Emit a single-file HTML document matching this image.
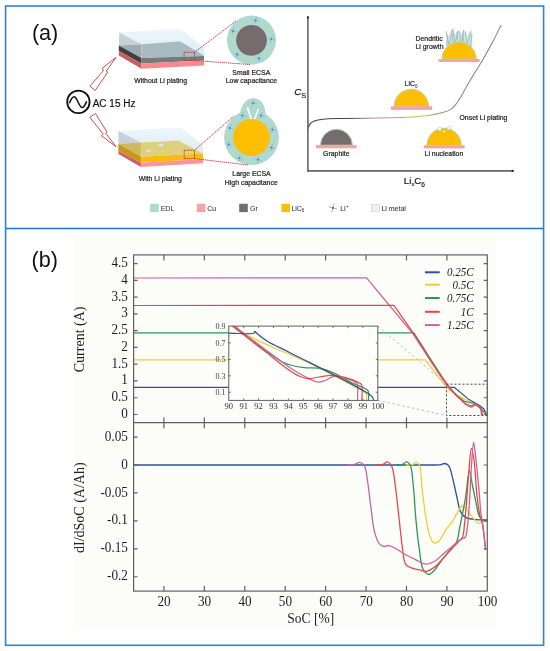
<!DOCTYPE html>
<html><head><meta charset="utf-8"><title>Figure</title>
<style>html,body{margin:0;padding:0;background:#fff;} svg{display:block;}</style>
</head><body>
<svg width="550" height="651" viewBox="0 0 550 651">
<rect width="550" height="651" fill="#fff"/>
<defs><linearGradient id="tf1" gradientUnits="userSpaceOnUse" x1="0" y1="28" x2="0" y2="56"><stop offset="0" stop-color="#eef7fb"/><stop offset="1" stop-color="#d9edf5"/></linearGradient><linearGradient id="tf2" gradientUnits="userSpaceOnUse" x1="0" y1="127" x2="0" y2="154"><stop offset="0" stop-color="#eef7fb"/><stop offset="1" stop-color="#d9edf5"/></linearGradient></defs>
<text x="31.9" y="40.3" font-family="Liberation Sans, Arial, sans-serif" font-size="21.6" fill="#111">(a)</text>
<polygon points="119.3,32.5 180,28.7 204,47.3 204,55.4 180,41.3 141.5,44.3" fill="url(#tf1)"/>
<polygon points="119.3,32.5 141.5,44.3 118.8,45.6" fill="#c7d1d7"/>
<polygon points="118.8,45.6 141.5,44.3 141.5,57.9" fill="#a0abb1"/>
<polygon points="141.5,44.3 180,41.3 204,55.4 204,55.9 141.5,57.9" fill="#a8bbc3"/>
<polygon points="118.8,45.6 141.5,57.9 141.5,63.4 118.8,51" fill="#3e3f41"/>
<polygon points="118.8,51 141.5,63.4 141.5,68.8 118.8,55.6" fill="#c85f63"/>
<polygon points="141.5,57.9 204,55.9 204,60.5 141.5,63.4" fill="#77797b"/>
<polygon points="141.5,63.4 204,60.5 204,65.5 141.5,68.8" fill="#f9898c"/>
<polygon points="118.4,131.1 181.2,127.3 203,145.5 203,153.4 178.4,140.4 140.9,142.5" fill="url(#tf2)"/>
<polygon points="118.4,131.1 140.9,142.5 118.4,143.8" fill="#c8d1d7"/>
<polygon points="118.4,143.8 140.9,142.5 140.9,156.6" fill="#cdb960"/>
<polygon points="140.9,142.5 178.4,140.4 203,153.4 140.9,156.8" fill="#dfd07c"/>
<polygon points="118.4,143.8 140.9,156.6 140.9,162.8 118.4,150.8" fill="#c9961b"/>
<polygon points="118.4,150.8 140.9,162.8 140.9,167 118.4,154" fill="#cf606a"/>
<polygon points="140.9,156.8 203,153.4 203,158.9 140.9,162.8" fill="#f9bb0c"/>
<polygon points="140.9,162.8 203,158.9 203,163.3 140.9,167" fill="#f7959b"/>
<ellipse cx="148.6" cy="150.8" rx="2.7" ry="1.3" fill="#d3e8f3"/>
<ellipse cx="160.9" cy="145" rx="2.7" ry="1.2" fill="#d3e8f3"/>
<text x="160.6" y="83.3" font-family="Liberation Sans, Arial, sans-serif" font-size="6.9" fill="#262626" stroke="#262626" stroke-width="0.22" text-anchor="middle">Without Li plating</text>
<text x="160.3" y="181" font-family="Liberation Sans, Arial, sans-serif" font-size="6.9" fill="#262626" stroke="#262626" stroke-width="0.22" text-anchor="middle">With Li plating</text>
<circle cx="78.4" cy="101.9" r="11.2" fill="none" stroke="#111" stroke-width="1.8"/>
<path d="M69.6,102.6 C71,99.5 72.4,96.7 74,96.7 C76,96.7 77,100 78.1,102.1 C79.2,104.4 80.4,107.6 82.2,107.6 C84,107.6 85.3,104.3 86.4,101.8" fill="none" stroke="#111" stroke-width="1.5" stroke-linecap="round"/>
<text x="92.7" y="106.7" font-family="Liberation Sans, Arial, sans-serif" font-size="10" fill="#111" stroke="#111" stroke-width="0.18">AC 15 Hz</text>
<polygon points="116,57.4 101.8,68.6 103.7,70.3 89.8,86.2 95.2,90.4 107.8,72.2 106.2,71.2" fill="#fff" stroke="#c23a44" stroke-width="0.9" stroke-linejoin="miter"/>
<polygon points="116,146.7 101.4,135.7 103.3,134.1 89.8,117.4 95.5,113.6 107,132 105.6,133.1" fill="#fff" stroke="#c23a44" stroke-width="0.9" stroke-linejoin="miter"/>
<circle cx="251.5" cy="40.1" r="24.5" fill="#afd9cd"/>
<circle cx="251.5" cy="40.3" r="15.4" fill="#776c6d"/>
<path d="M255.6,20.4 L258.69,21.23 M255.6,20.4 L254.77,23.49 M255.6,20.4 L252.51,19.57 M255.6,20.4 L256.43,17.31" stroke="#86afdb" stroke-width="0.72" stroke-linecap="round" fill="none"/><circle cx="255.6" cy="20.4" r="0.84" fill="#3271bf"/>
<path d="M233,31 L236.09,31.83 M233,31 L232.17,34.09 M233,31 L229.91,30.17 M233,31 L233.83,27.91" stroke="#86afdb" stroke-width="0.72" stroke-linecap="round" fill="none"/><circle cx="233" cy="31" r="0.84" fill="#3271bf"/>
<path d="M271.4,39 L274.49,39.83 M271.4,39 L270.57,42.09 M271.4,39 L268.31,38.17 M271.4,39 L272.23,35.91" stroke="#86afdb" stroke-width="0.72" stroke-linecap="round" fill="none"/><circle cx="271.4" cy="39" r="0.84" fill="#3271bf"/>
<path d="M237,54.4 L240.09,55.23 M237,54.4 L236.17,57.49 M237,54.4 L233.91,53.57 M237,54.4 L237.83,51.31" stroke="#86afdb" stroke-width="0.72" stroke-linecap="round" fill="none"/><circle cx="237" cy="54.4" r="0.84" fill="#3271bf"/>
<path d="M259,58.4 L262.09,59.23 M259,58.4 L258.17,61.49 M259,58.4 L255.91,57.57 M259,58.4 L259.83,55.31" stroke="#86afdb" stroke-width="0.72" stroke-linecap="round" fill="none"/><circle cx="259" cy="58.4" r="0.84" fill="#3271bf"/>
<circle cx="251.5" cy="137.6" r="27.4" fill="#afd9cd"/>
<path d="M239,120 C239.6,114.5 240.6,109.5 242.3,106 C243.8,103 245.5,100.8 248,99.5 C250,98.6 251.8,98.3 253.2,98.3 C255.2,98.3 257.6,98.9 260,100.6 C262.4,102.4 263.8,105.2 264.7,108.2 C265.4,111 265.8,114 266.2,120 Z" fill="#afd9cd"/>
<circle cx="251.5" cy="137.5" r="18.5" fill="#fdbe03"/>
<path d="M246.6,107.8 Q247.5,107 248.5,107.4 L252.1,119 L250.4,119.2 Z" fill="#fff"/>
<path d="M257.6,109 Q258.5,108.6 259.1,109.5 L255.4,119.2 L253.9,119 Z" fill="#fff"/>
<path d="M253,103 L256.09,103.83 M253,103 L252.17,106.09 M253,103 L249.91,102.17 M253,103 L253.83,99.91" stroke="#86afdb" stroke-width="0.72" stroke-linecap="round" fill="none"/><circle cx="253" cy="103" r="0.84" fill="#3271bf"/>
<path d="M242.4,115.6 L245.49,116.43 M242.4,115.6 L241.57,118.69 M242.4,115.6 L239.31,114.77 M242.4,115.6 L243.23,112.51" stroke="#86afdb" stroke-width="0.72" stroke-linecap="round" fill="none"/><circle cx="242.4" cy="115.6" r="0.84" fill="#3271bf"/>
<path d="M261,115.6 L264.09,116.43 M261,115.6 L260.17,118.69 M261,115.6 L257.91,114.77 M261,115.6 L261.83,112.51" stroke="#86afdb" stroke-width="0.72" stroke-linecap="round" fill="none"/><circle cx="261" cy="115.6" r="0.84" fill="#3271bf"/>
<path d="M230,128 L233.09,128.83 M230,128 L229.17,131.09 M230,128 L226.91,127.17 M230,128 L230.83,124.91" stroke="#86afdb" stroke-width="0.72" stroke-linecap="round" fill="none"/><circle cx="230" cy="128" r="0.84" fill="#3271bf"/>
<path d="M272.4,129.6 L275.49,130.43 M272.4,129.6 L271.57,132.69 M272.4,129.6 L269.31,128.77 M272.4,129.6 L273.23,126.51" stroke="#86afdb" stroke-width="0.72" stroke-linecap="round" fill="none"/><circle cx="272.4" cy="129.6" r="0.84" fill="#3271bf"/>
<path d="M228.6,144.4 L231.69,145.23 M228.6,144.4 L227.77,147.49 M228.6,144.4 L225.51,143.57 M228.6,144.4 L229.43,141.31" stroke="#86afdb" stroke-width="0.72" stroke-linecap="round" fill="none"/><circle cx="228.6" cy="144.4" r="0.84" fill="#3271bf"/>
<path d="M271.6,147.6 L274.69,148.43 M271.6,147.6 L270.77,150.69 M271.6,147.6 L268.51,146.77 M271.6,147.6 L272.43,144.51" stroke="#86afdb" stroke-width="0.72" stroke-linecap="round" fill="none"/><circle cx="271.6" cy="147.6" r="0.84" fill="#3271bf"/>
<path d="M239.4,158 L242.49,158.83 M239.4,158 L238.57,161.09 M239.4,158 L236.31,157.17 M239.4,158 L240.23,154.91" stroke="#86afdb" stroke-width="0.72" stroke-linecap="round" fill="none"/><circle cx="239.4" cy="158" r="0.84" fill="#3271bf"/>
<path d="M258,159.6 L261.09,160.43 M258,159.6 L257.17,162.69 M258,159.6 L254.91,158.77 M258,159.6 L258.83,156.51" stroke="#86afdb" stroke-width="0.72" stroke-linecap="round" fill="none"/><circle cx="258" cy="159.6" r="0.84" fill="#3271bf"/>
<text x="251.3" y="75" font-family="Liberation Sans, Arial, sans-serif" font-size="6.9" fill="#262626" stroke="#262626" stroke-width="0.22" text-anchor="middle">Small ECSA</text>
<text x="251.4" y="83" font-family="Liberation Sans, Arial, sans-serif" font-size="6.9" fill="#262626" stroke="#262626" stroke-width="0.22" text-anchor="middle">Low capacitance</text>
<text x="251.5" y="176.3" font-family="Liberation Sans, Arial, sans-serif" font-size="6.9" fill="#262626" stroke="#262626" stroke-width="0.22" text-anchor="middle">Large ECSA</text>
<text x="251.3" y="184.5" font-family="Liberation Sans, Arial, sans-serif" font-size="6.9" fill="#262626" stroke="#262626" stroke-width="0.22" text-anchor="middle">High capacitance</text>
<rect x="184.1" y="52.3" width="10.4" height="8.2" fill="none" stroke="#c23a44" stroke-width="1" stroke-dasharray="1.4,0.7"/>
<line x1="194.5" y1="52.3" x2="236" y2="21" stroke="#c23a44" stroke-width="0.95" stroke-dasharray="1.4,0.7"/>
<line x1="194.5" y1="60.5" x2="250" y2="64.5" stroke="#c23a44" stroke-width="0.95" stroke-dasharray="1.4,0.7"/>
<rect x="184.2" y="150.2" width="10.3" height="8.4" fill="none" stroke="#c23a44" stroke-width="1" stroke-dasharray="1.4,0.7"/>
<line x1="194.5" y1="150.2" x2="234" y2="116" stroke="#c23a44" stroke-width="0.95" stroke-dasharray="1.4,0.7"/>
<line x1="194.5" y1="158.6" x2="248" y2="165" stroke="#c23a44" stroke-width="0.95" stroke-dasharray="1.4,0.7"/>
<defs><linearGradient id="cg" gradientUnits="userSpaceOnUse" x1="308" y1="0" x2="502" y2="0"><stop offset="0" stop-color="#3a3a3a"/><stop offset="0.22" stop-color="#4a4a4a"/><stop offset="0.33" stop-color="#b98a8e"/><stop offset="0.45" stop-color="#c9a56a"/><stop offset="0.6" stop-color="#d4c060"/><stop offset="0.72" stop-color="#8a8a8a"/><stop offset="1" stop-color="#808080"/></linearGradient></defs>
<path d="M308,128.8 C308.27,128.1 308.8,125.8 309.6,124.6 C310.4,123.4 311.4,122.38 312.8,121.6 C314.2,120.82 315.37,120.37 318,119.9 C320.63,119.43 324.33,119.03 328.6,118.8 C332.87,118.57 335.03,118.65 343.6,118.5 C352.17,118.35 368.48,118.17 380,117.9 C391.52,117.63 404.67,117.3 412.7,116.9 C420.73,116.5 423.2,116.22 428.2,115.5 C433.2,114.78 438.98,113.58 442.7,112.6 C446.42,111.62 448.4,110.87 450.5,109.6 C452.6,108.33 453.72,106.9 455.3,105 C456.88,103.1 458.35,100.85 460,98.2 C461.65,95.55 462.93,93.05 465.2,89.1 C467.47,85.15 470.68,79.35 473.6,74.5 C476.52,69.65 479.67,65.15 482.7,60 C485.73,54.85 488.72,49.43 491.8,43.6 C494.88,37.77 499.63,28.1 501.2,25" fill="none" stroke="url(#cg)" stroke-width="1.05"/>
<line x1="307.9" y1="16.4" x2="307.9" y2="171.8" stroke="#666" stroke-width="1.6"/>
<line x1="307" y1="170.9" x2="513.5" y2="170.9" stroke="#666" stroke-width="1.6"/>
<circle cx="307.9" cy="17.4" r="1.1" fill="#222"/>
<circle cx="512.6" cy="170.9" r="1.1" fill="#222"/>
<text x="294.2" y="95.2" font-family="Liberation Sans, Arial, sans-serif" font-size="9.8" font-style="italic" fill="#1a1a1a" stroke="#1a1a1a" stroke-width="0.25">C</text>
<text x="301.3" y="97.9" font-family="Liberation Sans, Arial, sans-serif" font-size="7.3" fill="#1a1a1a" stroke="#1a1a1a" stroke-width="0.15">S</text>
<text x="403.8" y="183.6" font-family="Liberation Sans, Arial, sans-serif" font-size="9.7" fill="#1a1a1a" stroke="#1a1a1a" stroke-width="0.2">Li</text>
<text x="411.5" y="185.6" font-family="Liberation Sans, Arial, sans-serif" font-size="6.2" fill="#1a1a1a" stroke="#1a1a1a" stroke-width="0.15">x</text>
<text x="414.2" y="183.9" font-family="Liberation Sans, Arial, sans-serif" font-size="9.7" fill="#1a1a1a" stroke="#1a1a1a" stroke-width="0.2">C</text>
<text x="421.2" y="186.5" font-family="Liberation Sans, Arial, sans-serif" font-size="6.6" fill="#1a1a1a" stroke="#1a1a1a" stroke-width="0.15">6</text>
<path d="M320.4,145.2 A16,16 0 0 1 352.4,145.2 Z" fill="#776c6d" stroke="#afd9cd" stroke-width="0.9"/>
<rect x="316" y="145" width="40.7" height="3.3" fill="#f9a2a2"/>
<text x="336.3" y="156.2" font-family="Liberation Sans, Arial, sans-serif" font-size="6.9" fill="#262626" stroke="#262626" stroke-width="0.22" text-anchor="middle">Graphite</text>
<path d="M394,106.4 A17.3,17.3 0 0 1 428.6,106.4 Z" fill="#fdbe03" stroke="#afd9cd" stroke-width="0.9"/>
<rect x="390.9" y="106.3" width="41.2" height="3.6" fill="#f9a2a2"/>
<text x="404.6" y="85.8" font-family="Liberation Sans, Arial, sans-serif" font-size="6.9" fill="#262626" stroke="#262626" stroke-width="0.22">LiC</text>
<text x="415" y="87.6" font-family="Liberation Sans, Arial, sans-serif" font-size="4.6" fill="#262626">6</text>
<polygon points="446.6,47 446.2,38 445.8,31.6 448.6,36.5 451.6,30.2 453,29 455.2,34.5 457.8,30.6 459.7,31.3 461.3,35.2 463.8,30 465.4,32 467.3,35.8 470.7,31.2 472.4,33.5 472.2,47" fill="#d3e5e2"/>
<path d="M446.3,31.6 Q447.25,38.05 449,44.5 Q450.8,37.35 451.8,30.2 M453,29.2 Q453.6,36.2 455,43.2 Q456.8,37 457.8,30.8 M459.6,31.6 Q460,37.3 461.2,43 Q462.9,36.6 463.8,30.2 M465.4,32.2 Q465.9,38.35 467.2,44.5 Q469.3,37.95 470.6,31.4 M452.2,44 L452.8,33 M458,43 L457.2,32.5 M464.2,43.5 L462.4,33 M470.6,46 L471.8,34.5 M446.8,46 L447.8,36" fill="none" stroke="#9dbdb8" stroke-width="0.95" stroke-linecap="round" stroke-linejoin="round"/>
<path d="M441.9,59.1 A17.2,17.2 0 0 1 476.3,59.1 Z" fill="#fdbe03" stroke="#afd9cd" stroke-width="0.9"/>
<rect x="438.6" y="59" width="40.9" height="3" fill="#f9a2a2"/>
<text x="415.5" y="41.4" font-family="Liberation Sans, Arial, sans-serif" font-size="6.9" fill="#262626" stroke="#262626" stroke-width="0.22">Dendritic</text>
<text x="415.5" y="49" font-family="Liberation Sans, Arial, sans-serif" font-size="6.9" fill="#262626" stroke="#262626" stroke-width="0.22">Li growth</text>
<path d="M426.8,145.4 A17.3,17.3 0 0 1 461.4,145.4 Z" fill="#fdbe03" stroke="#afd9cd" stroke-width="0.9"/>
<circle cx="439.6" cy="128.9" r="1.8" fill="#fff" stroke="#afd9cd" stroke-width="0.8"/>
<circle cx="449" cy="128" r="1.8" fill="#fff" stroke="#afd9cd" stroke-width="0.8"/>
<circle cx="444.1" cy="131.6" r="1" fill="#fff"/>
<rect x="423.8" y="145.3" width="40.9" height="3.1" fill="#f9a2a2"/>
<text x="443.9" y="156.4" font-family="Liberation Sans, Arial, sans-serif" font-size="6.9" fill="#262626" stroke="#262626" stroke-width="0.22" text-anchor="middle">Li nucleation</text>
<text x="459.5" y="119.5" font-family="Liberation Sans, Arial, sans-serif" font-size="6.9" fill="#262626" stroke="#262626" stroke-width="0.22">Onset Li plating</text>
<rect x="150.1" y="203.8" width="8.6" height="8.3" fill="#afd9cd"/>
<text x="160.7" y="210.9" font-family="Liberation Sans, Arial, sans-serif" font-size="7" fill="#3c3c3c" stroke="#3c3c3c" stroke-width="0.08">EDL</text>
<rect x="196.8" y="203.8" width="8.6" height="8.3" fill="#f9a2a2"/>
<text x="207.2" y="210.9" font-family="Liberation Sans, Arial, sans-serif" font-size="7" fill="#3c3c3c" stroke="#3c3c3c" stroke-width="0.08">Cu</text>
<rect x="239.2" y="203.8" width="8.6" height="8.3" fill="#776c6d"/>
<text x="250" y="210.9" font-family="Liberation Sans, Arial, sans-serif" font-size="7" fill="#3c3c3c" stroke="#3c3c3c" stroke-width="0.08">Gr</text>
<rect x="281.5" y="203.8" width="8.4" height="8.3" fill="#fdbe03"/>
<text x="291.4" y="210.9" font-family="Liberation Sans, Arial, sans-serif" font-size="7" fill="#3c3c3c" stroke="#3c3c3c" stroke-width="0.08">LiC</text>
<text x="301.8" y="212.4" font-family="Liberation Sans, Arial, sans-serif" font-size="4.6" fill="#333">6</text>
<path d="M332.9,207.9 L336.76,208.94 M332.9,207.9 L331.86,211.76 M332.9,207.9 L329.04,206.86 M332.9,207.9 L333.94,204.04" stroke="#86afdb" stroke-width="0.9" stroke-linecap="round" fill="none"/><circle cx="332.9" cy="207.9" r="1.05" fill="#3271bf"/>
<text x="340.2" y="210.9" font-family="Liberation Sans, Arial, sans-serif" font-size="7" fill="#3c3c3c" stroke="#3c3c3c" stroke-width="0.08">Li</text>
<text x="345.9" y="207.6" font-family="Liberation Sans, Arial, sans-serif" font-size="4.6" fill="#333">+</text>
<rect x="371.6" y="204.2" width="7.8" height="7.6" fill="#efefef" stroke="#d4d4d4" stroke-width="0.7"/>
<text x="381.4" y="210.9" font-family="Liberation Sans, Arial, sans-serif" font-size="7" fill="#3c3c3c" stroke="#3c3c3c" stroke-width="0.08">Li metal</text>
<rect x="74.2" y="235.3" width="422" height="393.7" fill="#fcfcf8"/>
<path d="M133.6,387.3 L454.2,387.3 L469,399.6 L479.6,405.5 L484,409 L486.7,415" fill="none" stroke="#30509c" stroke-width="1.2" stroke-linejoin="round"/>
<path d="M133.6,359.8 L425.3,359.8 L442.8,382.8 L450,390.5 L458,395.5 L469,401.5 L479,406.5 L485.5,414.5" fill="none" stroke="#f0d030" stroke-width="1.2" stroke-linejoin="round"/>
<path d="M133.6,332.9 L413.9,332.9 L437,369 L448,386 L456,395 L464.3,401.3 L475,403.5 L484.4,412 L486.5,415" fill="none" stroke="#2a9856" stroke-width="1.2" stroke-linejoin="round"/>
<path d="M133.6,278 L366.6,277.8 L389.5,305.5 L412.9,333.6 L444.8,382.8 L449,388 L457,396 L465,403.2 L470.5,405.8 L476,404.2 L480.5,407.5 L481.5,415" fill="none" stroke="#c8649a" stroke-width="1.2" stroke-linejoin="round"/>
<path d="M133.6,305.5 L393.9,305.3 L402.7,317.8 L412.9,332.4 L437,370 L448.9,386.5 L457,396 L465.5,404.3 L470.8,407.2 L476,404.6 L481.5,409 L482.5,415" fill="none" stroke="#e44a44" stroke-width="1.2" stroke-linejoin="round"/>
<path d="M133.6,465 L436,465 C437.33,464.93 438.6,465.01 440,464.8 C441.59,464.56 443.57,463.35 445,463.5 C446.15,463.62 447.18,464.25 448,465 C448.87,465.79 449.36,466.69 450,468.2 C451.25,471.13 452.36,477.26 453.5,482 C454.7,487.01 455.82,492.48 457,497.5 C458.12,502.26 458.58,507.88 460.4,511.4 C461.75,514.02 463.28,516.03 465.6,517.4 C468.28,518.98 472.44,519.16 476,519.6 C479.67,520.05 483.53,519.87 487.3,520" fill="none" stroke="#30509c" stroke-width="1.3"/>
<path d="M406,465 L409,465 C410.17,464.87 411.34,464.99 412.5,464.6 C413.81,464.16 415.22,462.16 416.4,462.3 C417.55,462.44 418.68,463.63 419.5,465.3 C421.3,468.97 420.92,478.6 421.8,486 C422.82,494.57 424.02,505.41 425.3,513.7 C426.35,520.5 427.29,527.15 428.7,532.2 C429.72,535.85 430.83,539.68 432.2,541.4 C432.94,542.33 433.66,542.93 434.6,543 C435.83,543.09 437.54,542.2 439,540.9 C441.45,538.71 443.91,532.58 446.3,529.2 C448.26,526.42 450.25,524.61 452.1,521.9 C454.18,518.85 456.11,514.6 458,511.7 C459.48,509.42 460.67,505.93 462.3,505.8 C464.04,505.66 466.3,509.57 468.2,511.7 C470.21,513.95 472.14,516.94 474,519 C475.51,520.68 477,523.05 478.4,523.3 C479.4,523.48 480.14,522.4 481.3,522 C482.92,521.44 485.3,521 487.3,520.5" fill="none" stroke="#f0d030" stroke-width="1.3"/>
<path d="M396,465 L399,465 C400.17,464.8 401.33,464.85 402.5,464.4 C403.87,463.87 405.31,461.68 406.6,461.8 C407.92,461.93 409.31,463.39 410.3,465.3 C412.3,469.16 412.43,478.2 413.3,486 C414.42,496.04 414.92,509.49 416,520.6 C417.01,530.97 418.16,541.84 419.5,550.6 C420.56,557.5 420.74,564.91 423,569 C424.47,571.66 426.82,574.3 428.8,574.4 C430.69,574.5 432.7,571.95 434.6,570 C437.09,567.44 439.41,563.03 441.9,559.8 C444.28,556.71 446.76,553.92 449.2,551 C451.63,548.09 454.81,545.74 456.5,542.3 C458.34,538.57 458.46,533.69 459.4,529.2 C460.39,524.47 461.31,519.66 462.3,514.6 C463.37,509.13 464.53,503.84 465.6,497.5 C466.92,489.64 468.06,471.05 469.4,471 C470.39,470.97 471.45,480.46 472.5,485.5 C473.64,490.99 474.78,497.29 476,502.7 C477.09,507.56 477.74,513.55 479.4,516.5 C480.38,518.24 481.54,519.25 482.9,520 C484.19,520.71 485.83,520.67 487.3,521" fill="none" stroke="#2a9856" stroke-width="1.3"/>
<path d="M376,465 L379,465 C380.33,464.8 381.7,464.87 383,464.4 C384.43,463.89 385.83,461.73 387.2,461.9 C388.78,462.1 390.58,464.17 391.8,466.5 C393.93,470.57 394.23,478.78 395.3,486 C396.62,494.91 397.65,506 398.8,516 C399.95,526 400.87,537.24 402.2,546 C403.25,552.9 403.27,560.88 405.7,564.4 C407.15,566.5 409.19,566.97 411.4,567.9 C414.03,569.01 417.97,569.54 420.6,570.2 C422.58,570.69 423.88,571.71 425.8,571.5 C428.4,571.21 431.83,569.1 434.6,567.1 C437.7,564.87 440.45,561.47 443.3,558.4 C446.29,555.19 449.25,551.27 452.1,548.2 C454.6,545.51 457.5,543 459.4,540.9 C460.73,539.44 461.79,538.83 462.6,537 C463.91,534.05 463.91,529 464.5,524 C465.3,517.23 466.02,508.08 466.7,500 C467.39,491.75 467.83,483.46 468.6,475 C469.39,466.27 470.25,448.47 471.4,448.4 C472.17,448.36 473.24,455.03 474,460 C475.32,468.66 475.81,485.77 477,496 C477.89,503.66 478.88,511.32 480,516 C480.63,518.62 481.42,519.59 482,522 C482.84,525.48 483.44,530.75 484,535 C484.53,539.07 484.87,543 485.3,547" fill="none" stroke="#e44a44" stroke-width="1.3"/>
<path d="M347,465 L350,465 C351.5,464.8 352.98,464.79 354.5,464.4 C356.17,463.97 357.98,462.25 359.6,462.4 C361.21,462.55 362.99,463.56 364.2,465.3 C366.31,468.34 366.57,475.36 367.6,481.5 C368.94,489.46 369.88,500.32 371.1,509.1 C372.22,517.15 372.89,525.91 374.6,532.2 C375.85,536.78 377.19,541.32 379.2,543.7 C380.53,545.27 382.21,546.23 383.8,546.5 C385.29,546.75 386.74,545.36 388.4,545.5 C390.49,545.68 392.89,547.08 395.3,548.3 C398.21,549.78 401.22,552.16 404.5,554 C408.08,556.01 412.3,558.04 416,559.8 C419.38,561.41 422.59,564.03 425.8,564.2 C428.78,564.35 431.82,562.85 434.6,561.3 C437.68,559.58 440.28,556.55 443.3,554 C446.59,551.21 450.44,547.8 453.6,545.2 C456.22,543.04 458.7,540.84 460.9,539.4 C462.53,538.33 464.33,538.45 465.4,537 C466.92,534.96 466.82,531.17 467.4,527 C468.35,520.21 468.95,509.59 469.6,500 C470.34,489.09 470.74,475.39 471.5,465 C472.12,456.64 472.79,442.42 473.6,442.4 C474.32,442.38 475.21,453.35 476,460 C477.02,468.67 478.13,480.55 479,490 C479.77,498.44 480.17,507.39 481,514 C481.59,518.7 482.35,521.3 483,526 C483.91,532.62 484.73,542 485.6,550" fill="none" stroke="#c8649a" stroke-width="1.3"/>
<line x1="377.8" y1="326.1" x2="446.5" y2="384.2" stroke="#b5b5b5" stroke-width="0.9" stroke-dasharray="2.5,2.5"/>
<line x1="377.8" y1="400.4" x2="446.5" y2="415.5" stroke="#b5b5b5" stroke-width="0.9" stroke-dasharray="2.5,2.5"/>
<rect x="228.8" y="326.1" width="149.0" height="74.3" fill="#fefefc"/>
<path d="M236.7,326.1 C237.47,327.27 237.77,328.37 239,329.6 C241.16,331.75 245.85,334.41 249.8,336.6 C254.22,339.05 259.54,341.16 264.4,343.4 C269.24,345.63 274.31,348.05 278.9,350 C282.96,351.73 286.16,352.75 290.5,354.6 C296.19,357.02 302.85,360.02 310,363.5 C318.97,367.86 330.48,373.97 340,379 C348.73,383.61 361.77,390.1 365,392.5 C365.88,393.16 366.18,393.23 366.5,394 C367.05,395.33 366.5,398.27 366.5,400.4" fill="none" stroke="#f0d030" stroke-width="1.2"/>
<path d="M233.5,326.1 C237.33,329.13 240.78,331.9 245,335.2 C250.11,339.2 256.55,344.42 262,348.4 C266.84,351.93 272.01,355.43 276,358 C278.89,359.86 280.93,361.35 283.6,362.6 C286.27,363.85 288.89,364.71 292,365.5 C295.72,366.45 300.16,367.15 304.5,367.6 C309.14,368.08 314.21,367.38 319,368.2 C323.91,369.04 328.7,370.61 333.6,372.7 C339.03,375.01 344.39,378.94 350,381.8 C355.69,384.71 365.29,387.84 367.5,390 C368.25,390.73 368.28,391.07 368.5,392 C368.93,393.81 368.5,397.6 368.5,400.4" fill="none" stroke="#2a9856" stroke-width="1.2"/>
<path d="M234.5,326.1 C238,328.8 240.93,331.1 245,334.2 C250.59,338.45 257.95,343.95 265,349.2 C272.86,355.06 282.61,362.82 290,367.7 C295.53,371.35 300.18,374.02 305,376.5 C309.24,378.68 313.62,381.58 317.3,382 C320.11,382.32 322.42,381.35 325,380.5 C327.85,379.56 330.48,376.9 333.6,376.4 C336.95,375.86 340.82,376.75 344.5,377.8 C348.61,378.97 355.42,381.58 357,383.5 C357.68,384.33 357.46,384.81 357.6,386 C357.93,388.81 357.6,395.6 357.6,400.4" fill="none" stroke="#c8649a" stroke-width="1.2"/>
<path d="M232.4,326.1 C236.6,329.37 240.32,332.26 245,335.9 C250.9,340.48 257.96,345.95 265,351.4 C272.87,357.48 283.43,366.28 290,370.7 C293.98,373.37 296.74,375.17 300,376.5 C302.79,377.64 305.26,378.45 308.2,378.6 C311.54,378.77 315.25,377.53 319,377 C323.08,376.43 327.55,375.25 331.8,375.3 C336.05,375.35 340.18,376.17 344.5,377.3 C349.23,378.54 356.12,381.05 359,382.7 C360.39,383.5 361.17,383.67 361.8,385 C363.1,387.74 361.8,395.27 361.8,400.4" fill="none" stroke="#e44a44" stroke-width="1.2"/>
<path d="M228.8,333.1 C237.27,333.1 251.71,334.81 254.2,333.1 C254.89,332.63 254.55,331.37 254.9,331.3 C255.29,331.22 255.69,332.26 256.5,333 C258.47,334.78 262.88,338.53 267.3,341.3 C273.34,345.09 280.13,347.59 290,352.7 C308.86,362.47 364.66,388.76 371.8,396.4 C373.35,398.06 373,399.07 373.6,400.4" fill="none" stroke="#30509c" stroke-width="1.2"/>
<rect x="228.8" y="326.1" width="149.0" height="74.3" fill="none" stroke="#606060" stroke-width="1"/>
<path d="M243.7,400.4 v-2 M243.7,326.1 v2 M258.6,400.4 v-2 M258.6,326.1 v2 M273.5,400.4 v-2 M273.5,326.1 v2 M288.4,400.4 v-2 M288.4,326.1 v2 M303.3,400.4 v-2 M303.3,326.1 v2 M318.2,400.4 v-2 M318.2,326.1 v2 M333.1,400.4 v-2 M333.1,326.1 v2 M348,400.4 v-2 M348,326.1 v2 M362.9,400.4 v-2 M362.9,326.1 v2 M228.8,392.26 h2 M377.8,392.26 h-2 M228.8,375.82 h2 M377.8,375.82 h-2 M228.8,359.38 h2 M377.8,359.38 h-2 M228.8,342.94 h2 M377.8,342.94 h-2" stroke="#606060" stroke-width="0.9" fill="none"/>
<text x="225.6" y="329.3" font-family="Liberation Serif, serif" font-size="8" fill="#444" text-anchor="end">0.9</text>
<text x="225.6" y="345.74" font-family="Liberation Serif, serif" font-size="8" fill="#444" text-anchor="end">0.7</text>
<text x="225.6" y="362.18" font-family="Liberation Serif, serif" font-size="8" fill="#444" text-anchor="end">0.5</text>
<text x="225.6" y="378.62" font-family="Liberation Serif, serif" font-size="8" fill="#444" text-anchor="end">0.3</text>
<text x="225.6" y="395.06" font-family="Liberation Serif, serif" font-size="8" fill="#444" text-anchor="end">0.1</text>
<text x="228.8" y="408.5" font-family="Liberation Serif, serif" font-size="8.5" fill="#333" text-anchor="middle">90</text>
<text x="243.7" y="408.5" font-family="Liberation Serif, serif" font-size="8.5" fill="#333" text-anchor="middle">91</text>
<text x="258.6" y="408.5" font-family="Liberation Serif, serif" font-size="8.5" fill="#333" text-anchor="middle">92</text>
<text x="273.5" y="408.5" font-family="Liberation Serif, serif" font-size="8.5" fill="#333" text-anchor="middle">93</text>
<text x="288.4" y="408.5" font-family="Liberation Serif, serif" font-size="8.5" fill="#333" text-anchor="middle">94</text>
<text x="303.3" y="408.5" font-family="Liberation Serif, serif" font-size="8.5" fill="#333" text-anchor="middle">95</text>
<text x="318.2" y="408.5" font-family="Liberation Serif, serif" font-size="8.5" fill="#333" text-anchor="middle">96</text>
<text x="333.1" y="408.5" font-family="Liberation Serif, serif" font-size="8.5" fill="#333" text-anchor="middle">97</text>
<text x="348" y="408.5" font-family="Liberation Serif, serif" font-size="8.5" fill="#333" text-anchor="middle">98</text>
<text x="362.9" y="408.5" font-family="Liberation Serif, serif" font-size="8.5" fill="#333" text-anchor="middle">99</text>
<text x="377.8" y="408.5" font-family="Liberation Serif, serif" font-size="8.5" fill="#333" text-anchor="middle">100</text>
<rect x="446.5" y="384.2" width="40.8" height="31.3" fill="none" stroke="#444" stroke-width="1" stroke-dasharray="2,2"/>
<rect x="133.6" y="254.9" width="353.7" height="336.2" fill="none" stroke="#606060" stroke-width="1.2"/>
<line x1="133.6" y1="422.6" x2="487.3" y2="422.6" stroke="#606060" stroke-width="1.2"/>
<path d="M163.9,254.9 v5.6 M163.9,422.6 v-5 M163.9,422.6 v5.6 M163.9,591.1 v-5.2 M204.33,254.9 v5.6 M204.33,422.6 v-5 M204.33,422.6 v5.6 M204.33,591.1 v-5.2 M244.76,254.9 v5.6 M244.76,422.6 v-5 M244.76,422.6 v5.6 M244.76,591.1 v-5.2 M285.19,254.9 v5.6 M285.19,422.6 v-5 M285.19,422.6 v5.6 M285.19,591.1 v-5.2 M325.62,254.9 v5.6 M325.62,422.6 v-5 M325.62,422.6 v5.6 M325.62,591.1 v-5.2 M366.05,254.9 v5.6 M366.05,422.6 v-5 M366.05,422.6 v5.6 M366.05,591.1 v-5.2 M406.48,254.9 v5.6 M406.48,422.6 v-5 M406.48,422.6 v5.6 M406.48,591.1 v-5.2 M446.91,254.9 v5.6 M446.91,422.6 v-5 M446.91,422.6 v5.6 M446.91,591.1 v-5.2 M133.6,414.5 h4 M487.3,414.5 h-3.6 M133.6,397.74 h4 M487.3,397.74 h-3.6 M133.6,380.97 h4 M487.3,380.97 h-3.6 M133.6,364.2 h4 M487.3,364.2 h-3.6 M133.6,347.44 h4 M487.3,347.44 h-3.6 M133.6,330.68 h4 M487.3,330.68 h-3.6 M133.6,313.91 h4 M487.3,313.91 h-3.6 M133.6,297.14 h4 M487.3,297.14 h-3.6 M133.6,280.38 h4 M487.3,280.38 h-3.6 M133.6,263.62 h4 M487.3,263.62 h-3.6 M133.6,437.06 h4 M487.3,437.06 h-3.6 M133.6,465 h4 M487.3,465 h-3.6 M133.6,492.94 h4 M487.3,492.94 h-3.6 M133.6,520.88 h4 M487.3,520.88 h-3.6 M133.6,548.82 h4 M487.3,548.82 h-3.6 M133.6,576.76 h4 M487.3,576.76 h-3.6" stroke="#606060" stroke-width="1.2" fill="none"/>
<text transform="translate(127.9,417.9) scale(1,1.1)" font-family="Liberation Serif, serif" font-size="13.2" fill="#1e1e1e" text-anchor="end">0</text>
<text transform="translate(127.9,401.13) scale(1,1.1)" font-family="Liberation Serif, serif" font-size="13.2" fill="#1e1e1e" text-anchor="end">0.5</text>
<text transform="translate(127.9,384.37) scale(1,1.1)" font-family="Liberation Serif, serif" font-size="13.2" fill="#1e1e1e" text-anchor="end">1</text>
<text transform="translate(127.9,367.6) scale(1,1.1)" font-family="Liberation Serif, serif" font-size="13.2" fill="#1e1e1e" text-anchor="end">1.5</text>
<text transform="translate(127.9,350.84) scale(1,1.1)" font-family="Liberation Serif, serif" font-size="13.2" fill="#1e1e1e" text-anchor="end">2</text>
<text transform="translate(127.9,334.07) scale(1,1.1)" font-family="Liberation Serif, serif" font-size="13.2" fill="#1e1e1e" text-anchor="end">2.5</text>
<text transform="translate(127.9,317.31) scale(1,1.1)" font-family="Liberation Serif, serif" font-size="13.2" fill="#1e1e1e" text-anchor="end">3</text>
<text transform="translate(127.9,300.54) scale(1,1.1)" font-family="Liberation Serif, serif" font-size="13.2" fill="#1e1e1e" text-anchor="end">3.5</text>
<text transform="translate(127.9,283.78) scale(1,1.1)" font-family="Liberation Serif, serif" font-size="13.2" fill="#1e1e1e" text-anchor="end">4</text>
<text transform="translate(127.9,267.01) scale(1,1.1)" font-family="Liberation Serif, serif" font-size="13.2" fill="#1e1e1e" text-anchor="end">4.5</text>
<text transform="translate(127.9,440.66) scale(1,1.1)" font-family="Liberation Serif, serif" font-size="13.2" fill="#1e1e1e" text-anchor="end">0.05</text>
<text transform="translate(127.9,468.6) scale(1,1.1)" font-family="Liberation Serif, serif" font-size="13.2" fill="#1e1e1e" text-anchor="end">0</text>
<text transform="translate(127.9,496.54) scale(1,1.1)" font-family="Liberation Serif, serif" font-size="13.2" fill="#1e1e1e" text-anchor="end">-0.05</text>
<text transform="translate(127.9,524.48) scale(1,1.1)" font-family="Liberation Serif, serif" font-size="13.2" fill="#1e1e1e" text-anchor="end">-0.1</text>
<text transform="translate(127.9,552.42) scale(1,1.1)" font-family="Liberation Serif, serif" font-size="13.2" fill="#1e1e1e" text-anchor="end">-0.15</text>
<text transform="translate(127.9,580.36) scale(1,1.1)" font-family="Liberation Serif, serif" font-size="13.2" fill="#1e1e1e" text-anchor="end">-0.2</text>
<text transform="translate(164.1,605.5) scale(1,1.1)" font-family="Liberation Serif, serif" font-size="13.2" fill="#1e1e1e" text-anchor="middle">20</text>
<text transform="translate(204.53,605.5) scale(1,1.1)" font-family="Liberation Serif, serif" font-size="13.2" fill="#1e1e1e" text-anchor="middle">30</text>
<text transform="translate(244.96,605.5) scale(1,1.1)" font-family="Liberation Serif, serif" font-size="13.2" fill="#1e1e1e" text-anchor="middle">40</text>
<text transform="translate(285.39,605.5) scale(1,1.1)" font-family="Liberation Serif, serif" font-size="13.2" fill="#1e1e1e" text-anchor="middle">50</text>
<text transform="translate(325.82,605.5) scale(1,1.1)" font-family="Liberation Serif, serif" font-size="13.2" fill="#1e1e1e" text-anchor="middle">60</text>
<text transform="translate(366.25,605.5) scale(1,1.1)" font-family="Liberation Serif, serif" font-size="13.2" fill="#1e1e1e" text-anchor="middle">70</text>
<text transform="translate(406.68,605.5) scale(1,1.1)" font-family="Liberation Serif, serif" font-size="13.2" fill="#1e1e1e" text-anchor="middle">80</text>
<text transform="translate(447.11,605.5) scale(1,1.1)" font-family="Liberation Serif, serif" font-size="13.2" fill="#1e1e1e" text-anchor="middle">90</text>
<text transform="translate(487.54,605.5) scale(1,1.1)" font-family="Liberation Serif, serif" font-size="13.2" fill="#1e1e1e" text-anchor="middle">100</text>
<text transform="translate(310.8,622.6) scale(1,1.08)" font-family="Liberation Serif, serif" font-size="13.5" fill="#1e1e1e" text-anchor="middle">SoC [%]</text>
<text transform="translate(83.6,339.4) rotate(-90)" font-family="Liberation Serif, serif" font-size="14" fill="#222" text-anchor="middle">Current (A)</text>
<text transform="translate(84,507.7) rotate(-90)" font-family="Liberation Serif, serif" font-size="14" fill="#222" text-anchor="middle">dI/dSoC (A/Ah)</text>
<line x1="425" y1="272.3" x2="439.7" y2="272.3" stroke="#30509c" stroke-width="2"/>
<text transform="translate(473.6,276.4) scale(1,1.08)" font-family="Liberation Serif, serif" font-style="italic" font-size="11" fill="#1e1e1e" text-anchor="end">0.25C</text>
<line x1="425" y1="284.7" x2="439.7" y2="284.7" stroke="#f0d030" stroke-width="2"/>
<text transform="translate(473.6,288.8) scale(1,1.08)" font-family="Liberation Serif, serif" font-style="italic" font-size="11" fill="#1e1e1e" text-anchor="end">0.5C</text>
<line x1="425" y1="298" x2="439.7" y2="298" stroke="#2a9856" stroke-width="2"/>
<text transform="translate(473.6,302.1) scale(1,1.08)" font-family="Liberation Serif, serif" font-style="italic" font-size="11" fill="#1e1e1e" text-anchor="end">0.75C</text>
<line x1="425" y1="311.8" x2="439.7" y2="311.8" stroke="#e44a44" stroke-width="2"/>
<text transform="translate(473.6,315.9) scale(1,1.08)" font-family="Liberation Serif, serif" font-style="italic" font-size="11" fill="#1e1e1e" text-anchor="end">1C</text>
<line x1="425" y1="325.1" x2="439.7" y2="325.1" stroke="#c8649a" stroke-width="2"/>
<text transform="translate(473.6,329.2) scale(1,1.08)" font-family="Liberation Serif, serif" font-style="italic" font-size="11" fill="#1e1e1e" text-anchor="end">1.25C</text>
<text x="31.5" y="267.1" font-family="Liberation Sans, Arial, sans-serif" font-size="21.6" fill="#111">(b)</text>
<rect x="5.6" y="6" width="538" height="639.3" fill="none" stroke="#3381d6" stroke-width="1.6"/>
<line x1="5.6" y1="228.5" x2="543.6" y2="228.5" stroke="#1a73d0" stroke-width="1.5"/>
</svg>
</body></html>
